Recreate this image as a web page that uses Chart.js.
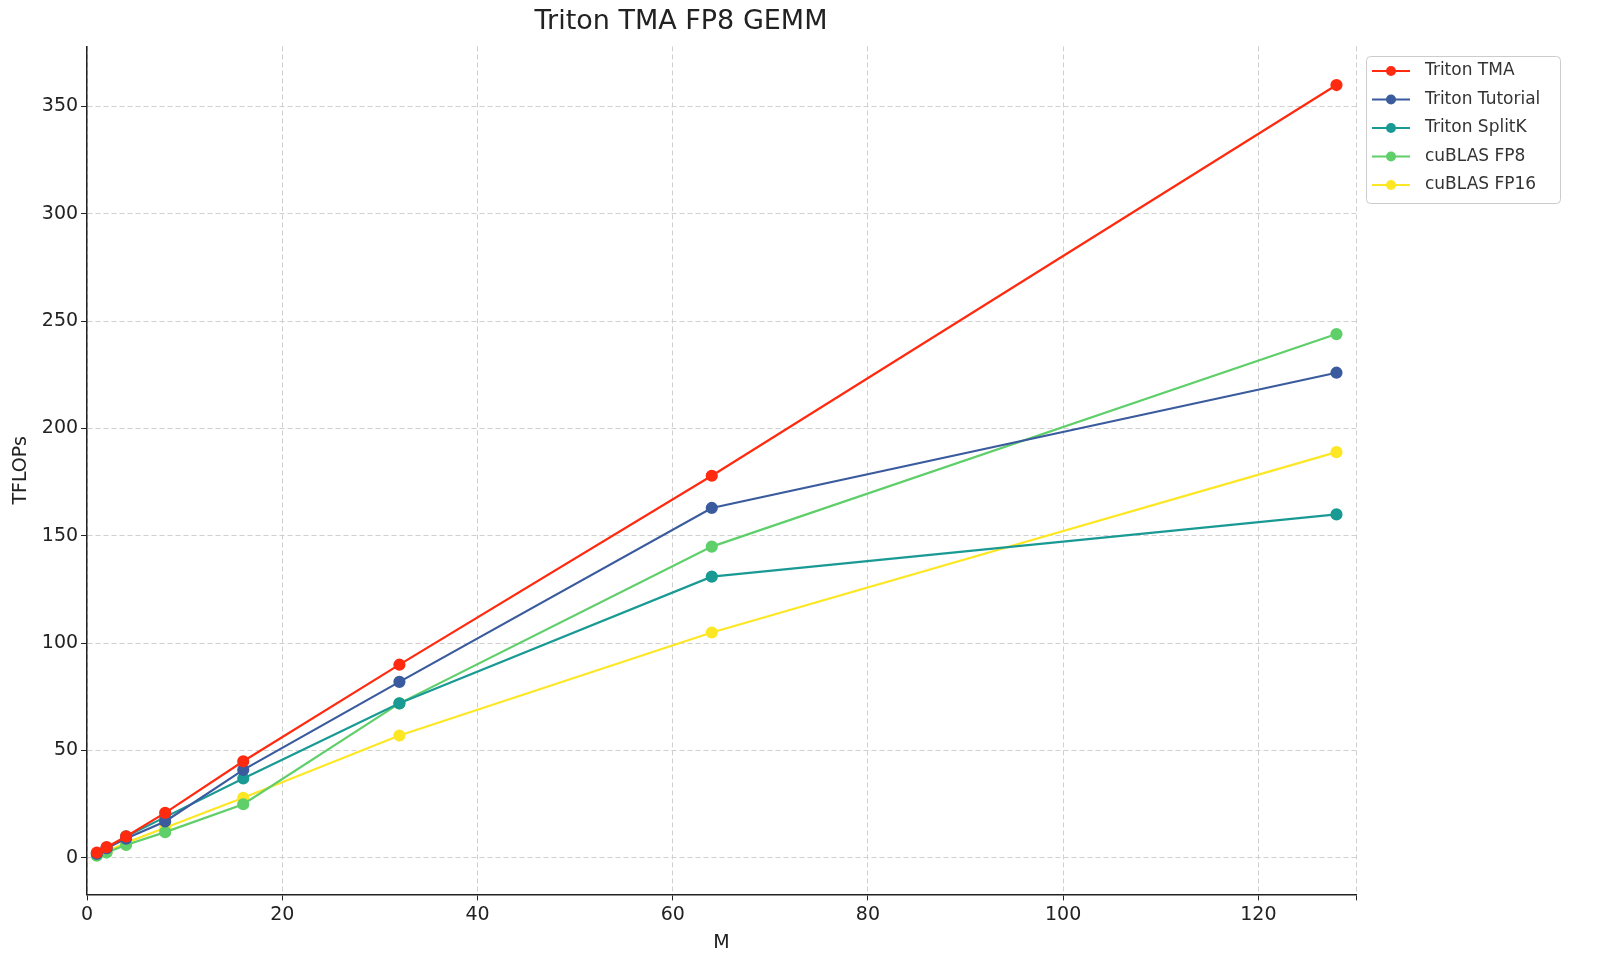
<!DOCTYPE html>
<html><head><meta charset="utf-8">
<script src="https://cdn.jsdelivr.net/npm/chart.js@4"></script>
<style>html,body{margin:0;background:#fff}#w{width:1600px;height:962px}</style>
</head><body><div id="w"><canvas id="c"></canvas></div>
<script>
const mValues = [1, 2, 4, 8, 16, 32, 64, 128];
const tritonTMA = [2.5, 5, 10, 21, 45, 90, 178, 360];
const tritonTutorial = [2, 4.5, 9, 17, 41, 82, 163, 226];
const tritonSplitK = [2, 4.5, 10, 19, 37, 72, 131, 160];
const cublasFP8 = [1, 2.5, 6, 12, 25, 72, 145, 244];
const cublasFP16 = [1.5, 3, 7, 14, 28, 57, 105, 189];
const seriesNames = ['Triton TMA','Triton Tutorial','Triton SplitK','cuBLAS FP8','cuBLAS FP16'];
const colors = ['#ff2a0f','#3a5b9e','#1a9a94','#5fcf6a','#fde725'];
const all = [tritonTMA, tritonTutorial, tritonSplitK, cublasFP8, cublasFP16];
Chart.defaults.font.family = 'DejaVu Sans';
Chart.defaults.color = '#222';
const legendBox = {
  id:'legendBox',
  afterDraw(chart){
    const ctx = chart.ctx;
    const x0 = 1366, y0 = 56, w = 194, rowH = 28.5, h = 147;
    ctx.save();
    ctx.fillStyle='rgba(255,255,255,0.9)'; ctx.strokeStyle='#ccc'; ctx.lineWidth=1;
    ctx.beginPath(); ctx.roundRect(x0+0.5, y0+0.5, w, h, 4); ctx.fill(); ctx.stroke();
    ctx.font = '17px "DejaVu Sans"'; ctx.textBaseline='middle';
    chart.data.datasets.forEach((ds,i)=>{
      const y = y0 + 15 + i*rowH;
      ctx.strokeStyle = ds.borderColor; ctx.lineWidth = 2;
      ctx.beginPath(); ctx.moveTo(x0+6, y); ctx.lineTo(x0+44, y); ctx.stroke();
      ctx.fillStyle = ds.borderColor;
      ctx.beginPath(); ctx.arc(x0+25, y, 5, 0, Math.PI*2); ctx.fill();
      ctx.fillStyle = '#333'; ctx.fillText(ds.label, x0+59, y);
    });
    ctx.restore();
  }
};
new Chart(document.getElementById('c'), {
  type:'line',
  data:{datasets: all.map((d,i)=>({
    label: seriesNames[i],
    data: mValues.map((m,j)=>({x:m,y:d[j]})),
    borderColor: colors[i], backgroundColor: colors[i],
    borderWidth: 2.2, pointRadius: 5, pointHoverRadius:5, tension:0
  }))},
  plugins:[legendBox],
  options:{
    responsive:true, maintainAspectRatio:false, animation:false,
    layout:{padding:{left:6,right:244,top:0,bottom:4}},
    plugins:{
      title:{display:true,text:'Triton TMA FP8 GEMM',font:{size:27,weight:'normal'},color:'#222',padding:{top:6,bottom:8}},
      legend:{display:false},
      tooltip:{enabled:false}
    },
    scales:{
      x:{type:'linear',min:0,max:130,
        title:{display:true,text:'M',font:{size:19},padding:{top:2}},
        ticks:{stepSize:20,font:{size:19},color:'#222',callback:v=>v%20===0?v:''},
        grid:{color:'#d0d0d0',tickColor:'#222',tickLength:6},
        border:{color:'#222',width:1.5,dash:[5,3]}},
      y:{min:-17,max:378,
        afterBuildTicks(ax){ax.ticks=[0,50,100,150,200,250,300,350].map(v=>({value:v}));},
        title:{display:true,text:'TFLOPs',font:{size:19},padding:{bottom:6}},
        ticks:{font:{size:19},color:'#222'},
        grid:{color:'#d0d0d0',tickColor:'#222',tickLength:6},
        border:{color:'#222',width:1.5,dash:[5,3]}}
    }
  }
});
</script></body></html>
